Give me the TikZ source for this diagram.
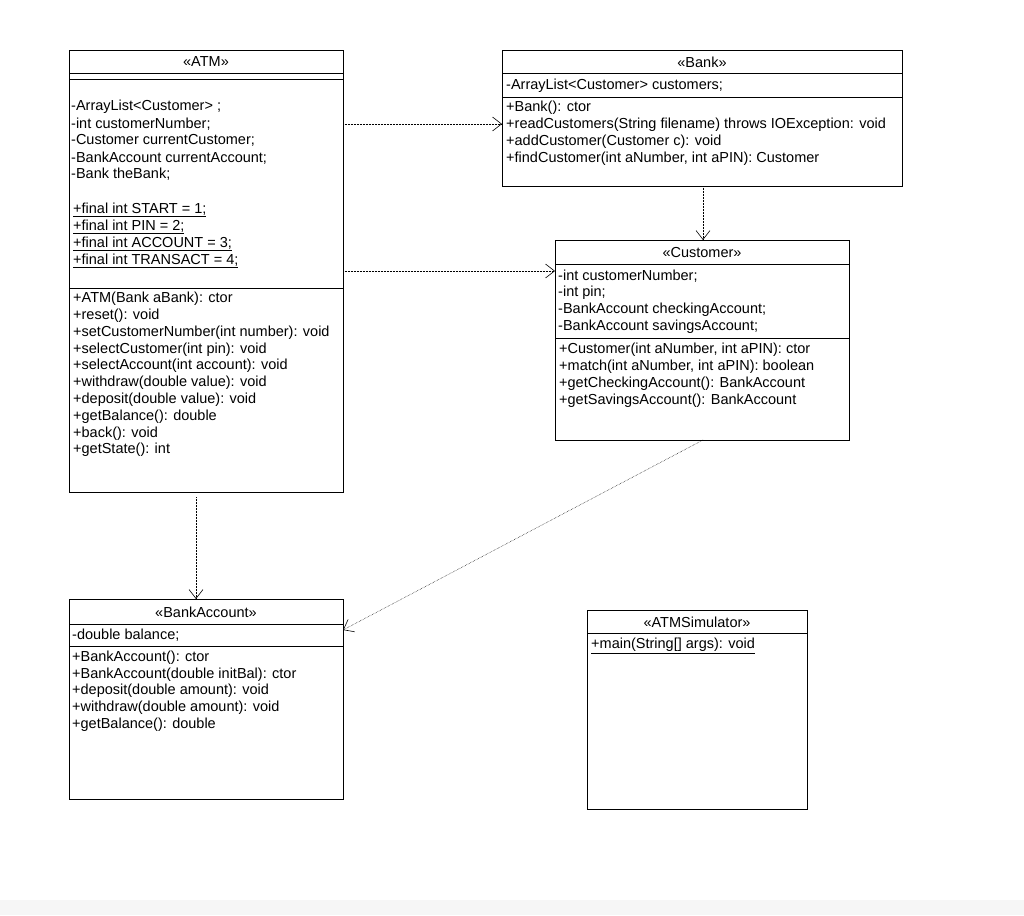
\documentclass[tikz,border=0pt]{standalone}
\usepackage{fontspec}
\setmainfont{Liberation Sans}
\usetikzlibrary{arrows.meta}
\begin{document}
\begin{tikzpicture}[x=1pt,y=-1pt,
  box/.style={draw,line width=0.9pt,anchor=north west,inner sep=0pt},
  sep/.style={line width=0.9pt},
  txt/.style={anchor=west,inner sep=0pt,font=\fontsize{14.5}{16}\selectfont},
  ttl/.style={inner sep=0pt,font=\fontsize{14.5}{16}\selectfont},
  dep/.style={densely dotted,line width=0.5pt,-{Straight Barb[length=9pt,width=14pt,line width=0.6pt]}}]
\useasboundingbox (0,0) rectangle (1024,915);
\fill[gray!7] (0,900) rectangle (1024,915);
% ATM
\node[box,minimum width=274pt,minimum height=442pt] (atm) at (69,50) {};
\node[ttl] (atmt) at (206,62) {«ATM»};
\draw[sep] (69,73) -- (343,73) (69,79) -- (343,79) (69,288) -- (343,288);
\foreach \t [count=\i from 0] in {-ArrayList<Customer> ;,-int customerNumber;,-Customer currentCustomer;,-BankAccount currentAccount;,-Bank theBank;}
  \node[txt] at (71,107+16.9*\i) {\t};
\foreach \t [count=\i from 0] in {+final int START = 1;,+final int PIN = 2;,+final int ACCOUNT = 3;,+final int TRANSACT = 4;}
  \node[txt] at (73,210+16.9*\i) {\underline{\t}};
\foreach \t [count=\i from 0] in {+ATM(Bank aBank): ctor,+reset(): void,+setCustomerNumber(int number): void,+selectCustomer(int pin): void,+selectAccount(int account): void,+withdraw(double value): void,+deposit(double value): void,+getBalance(): double,+back(): void,+getState(): int}
  \node[txt] at (73,299+16.8*\i) {\t};
% Bank
\node[box,minimum width=400pt,minimum height=136pt] (bank) at (502,50) {};
\node[ttl] at (702,62) {«Bank»};
\draw[sep] (502,73) -- (902,73) (502,97) -- (902,97);
\node[txt] at (506,86) {-ArrayList<Customer> customers;};
\foreach \t [count=\i from 0] in {+Bank(): ctor,+readCustomers(String filename) throws IOException: void,+addCustomer(Customer c): void,+findCustomer(int aNumber{,} int aPIN): Customer}
  \node[txt] at (506,108+16.9*\i) {\t};
% Customer
\node[box,minimum width=294pt,minimum height=200pt] (cust) at (555,240) {};
\node[ttl] at (702,253) {«Customer»};
\draw[sep] (555,264) -- (849,264) (555,338) -- (849,338);
\foreach \t [count=\i from 0] in {-int customerNumber;,-int pin;,-BankAccount checkingAccount;,-BankAccount savingsAccount;}
  \node[txt] at (558,276+16.8*\i) {\t};
\foreach \t [count=\i from 0] in {+Customer(int aNumber{,} int aPIN): ctor,+match(int aNumber{,} int aPIN): boolean,+getCheckingAccount(): BankAccount,+getSavingsAccount(): BankAccount}
  \node[txt] at (559,350+16.8*\i) {\t};
% BankAccount
\node[box,minimum width=274pt,minimum height=200pt] (ba) at (69,599) {};
\node[ttl] at (206,612) {«BankAccount»};
\draw[sep] (69,624) -- (343,624) (69,646) -- (343,646);
\node[txt] at (72,635) {-double balance;};
\foreach \t [count=\i from 0] in {+BankAccount(): ctor,+BankAccount(double initBal): ctor,+deposit(double amount): void,+withdraw(double amount): void,+getBalance(): double}
  \node[txt] at (72,658+16.6*\i) {\t};
% ATMSimulator
\node[box,minimum width=220pt,minimum height=199pt] (sim) at (587,610) {};
\node[ttl] at (697,622) {«ATMSimulator»};
\draw[sep] (587,633) -- (807,633);
\node[txt] at (591,646) {\underline{+main(String[] args): void}};
% connectors
\coordinate (a1) at (343,124); \coordinate (b1) at (502,124);
\coordinate (a2) at (343,271); \coordinate (c2) at (555,271);
\coordinate (b3) at (703,186); \coordinate (c3) at (703,240);
\coordinate (a4) at (196,497); \coordinate (d4) at (196,599);
\coordinate (c5) at (703,440); \coordinate (d5) at (343,630);
\draw[dep] (a1) -- (b1);
\draw[dep] (a2) -- (c2);
\draw[dep] (b3) -- (c3);
\draw[dep] (a4) -- (d4);
\draw[dep] (c5) -- (d5);
\end{tikzpicture}
\end{document}
